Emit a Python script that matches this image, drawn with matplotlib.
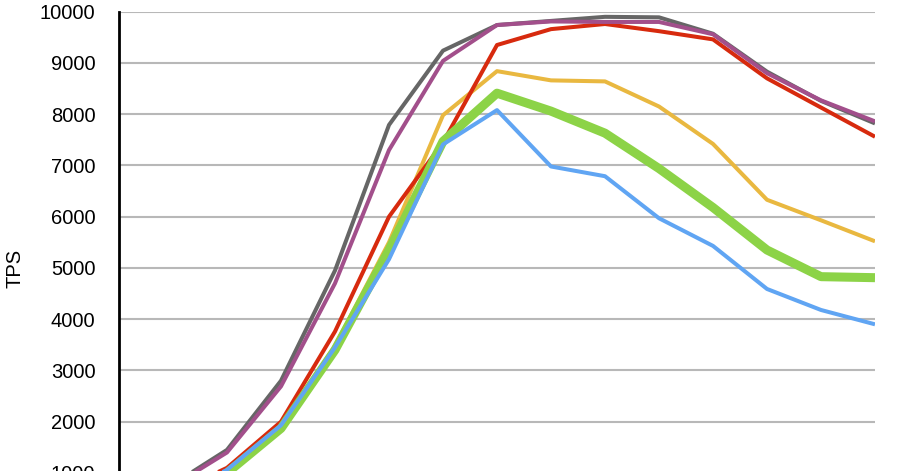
import matplotlib
matplotlib.use("Agg")
import matplotlib.pyplot as plt

plt.rcParams['font.family'] = ['Liberation Sans', 'DejaVu Sans']

x_idx = list(range(15))
gray   = [350, 780, 1450, 2800, 4950, 7790, 9240, 9740, 9820, 9900, 9890, 9570, 8830, 8260, 7820]
purple = [330, 750, 1400, 2690, 4700, 7300, 9040, 9740, 9810, 9800, 9800, 9560, 8800, 8270, 7860]
red    = [300, 600, 1100, 2000, 3760, 6000, 7450, 9350, 9660, 9760, 9620, 9460, 8700, 8130, 7560]
yellow = [280, 560, 1040, 1900, 3480, 5500, 7980, 8840, 8660, 8640, 8150, 7420, 6330, 5930, 5520]
green  = [260, 520, 1000, 1870, 3400, 5350, 7470, 8410, 8060, 7630, 6940, 6180, 5350, 4830, 4810]
blue   = [270, 550, 1060, 1930, 3450, 5170, 7410, 8080, 6980, 6790, 5970, 5430, 4590, 4180, 3900]
yticks = [1000, 2000, 3000, 4000, 5000, 6000, 7000, 8000, 9000, 10000]

fig = plt.figure(figsize=(8.98, 4.71), dpi=100)
W, H = 898, 471
left_px, right_px = 119, 875
top_px = 11.7
px_per_unit = 51.25 / 1000.0
y_top_from_bottom = H - top_px
y0_from_bottom = y_top_from_bottom - 10000 * px_per_unit
ax = fig.add_axes([left_px / W, y0_from_bottom / H, (right_px - left_px) / W,
                   (y_top_from_bottom - y0_from_bottom) / H])
ax.set_xlim(0, 14)
ax.set_ylim(0, 10000)

series = [
    (yellow, '#e9b840', 2.9, 2),
    (red, '#d72a0e', 2.9, 3),
    (green, '#8cd347', 6.5, 4),
    (blue, '#60a5f3', 2.9, 5),
    (gray, '#666666', 2.9, 6),
    (purple, '#a24f8b', 2.9, 7),
]
for vals, col, lw, z in series:
    ax.plot(x_idx, vals, color=col, lw=lw, zorder=z, solid_joinstyle='round',
            solid_capstyle='butt')

ax.set_yticks(yticks)
ax.set_yticklabels([str(v) for v in yticks], fontsize=14.5)
ax.tick_params(axis='y', length=0, pad=17)
ax.set_xticks([])
ax.grid(axis='y', color='#b8b8b8', lw=1.5, zorder=0)
ax.set_axisbelow(True)
for s in ['top', 'right', 'bottom']:
    ax.spines[s].set_visible(False)
ax.spines['left'].set_color('black')
ax.spines['left'].set_linewidth(2)
ax.spines['left'].set_zorder(10)

fig.text(15 / W, 1 - 268 / H, 'TPS', rotation=90, fontsize=14.5,
         ha='center', va='center')

fig.savefig('out.png', dpi=100)
